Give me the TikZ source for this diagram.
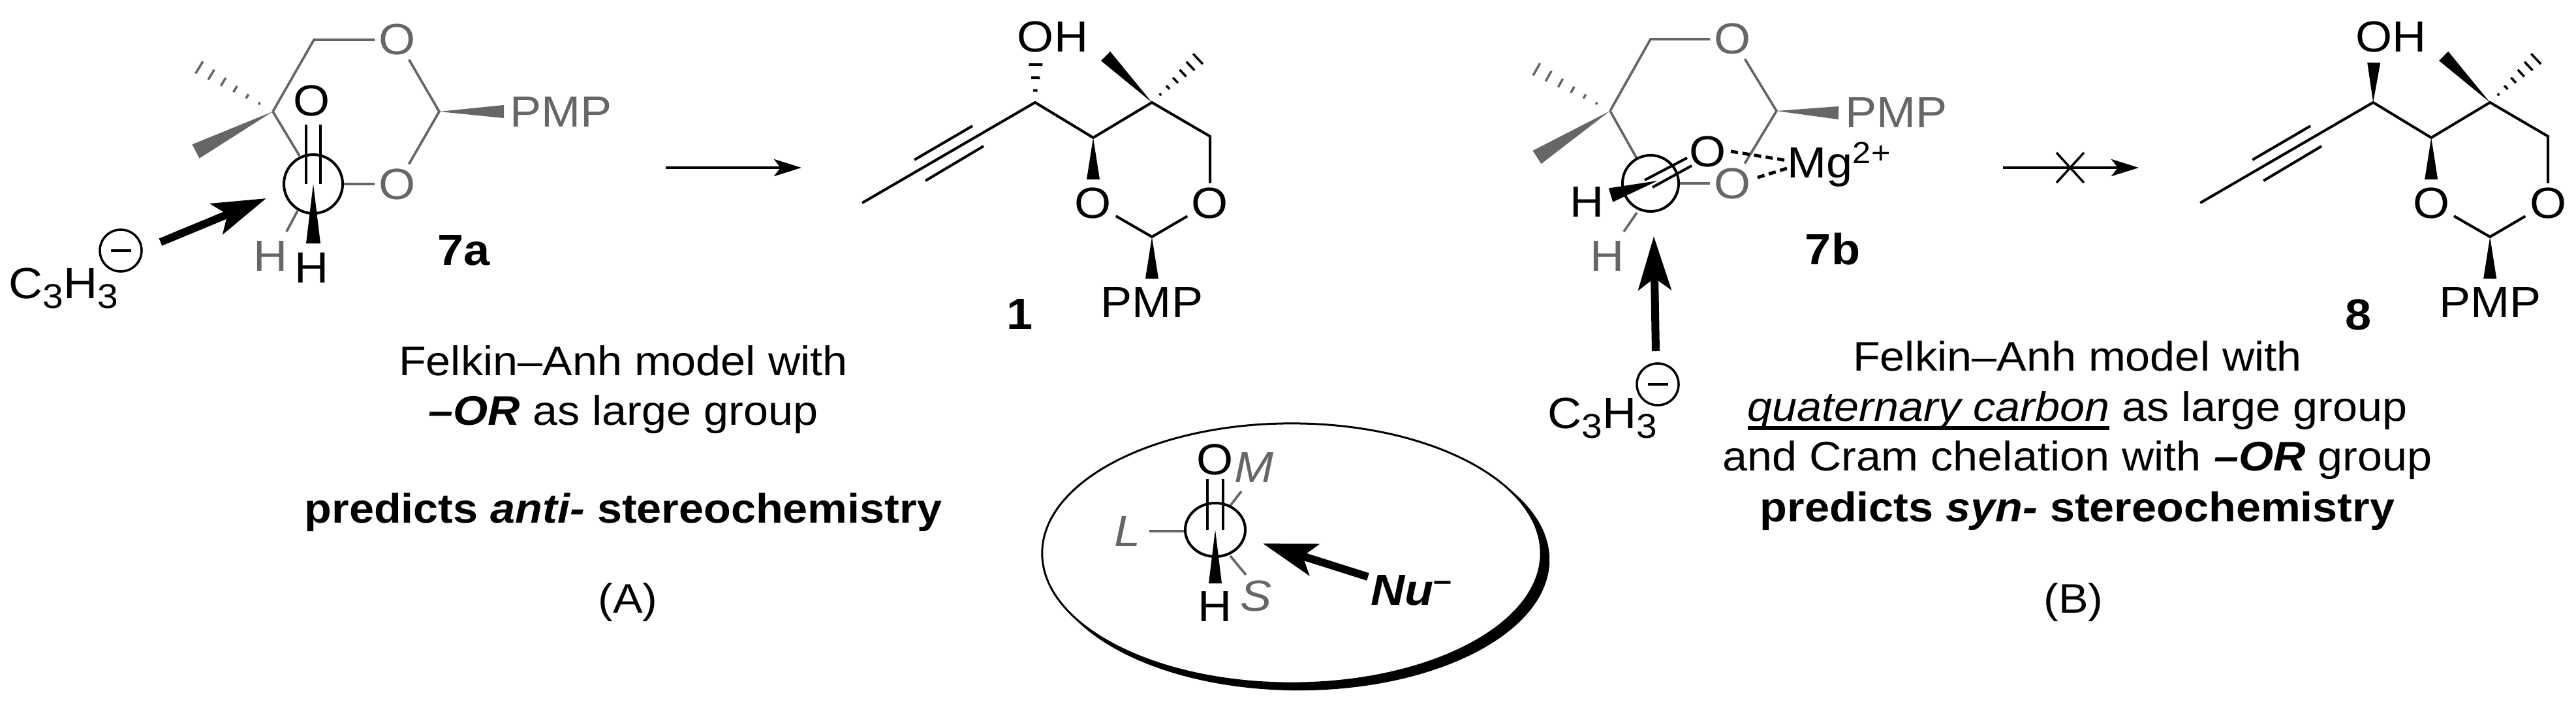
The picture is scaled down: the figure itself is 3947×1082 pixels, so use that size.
\documentclass[tikz,border=0pt]{standalone}
\usepackage{fontspec}
\setmainfont{Liberation Sans}[FakeStretch=1.08]
\usetikzlibrary{calc,arrows.meta}
\definecolor{gry}{RGB}{102,102,102}
\newcommand\hashb[3][black]{\foreach \t in {0.18,0.34,0.5,0.66,0.82,0.98}{\draw[#1,line width=0.035cm] ($(#2)!\t!(#3)!{\t*0.11cm}!90:(#3)$) -- ($(#2)!\t!(#3)!{\t*0.11cm}!-90:(#3)$);}}
\newcommand\hashc[3][black]{\foreach \t in {0.3,0.62,0.95}{\draw[#1,line width=0.04cm] ($(#2)!\t!(#3)!{\t*0.11cm}!90:(#3)$) -- ($(#2)!\t!(#3)!{\t*0.11cm}!-90:(#3)$);}}
\newcommand\wedgeb[4][black]{\fill[#1] (#2) -- ($(#3)!#4!90:(#2)$) -- ($(#3)!#4!-90:(#2)$) -- cycle;}
\newcommand\sub[1]{{\fontsize{15}{15}\selectfont\raisebox{-0.3em}{#1}}}
\newcommand\ulx[1]{\leavevmode\setbox0\hbox{#1}\rlap{#1}\rule[-0.22em]{\wd0}{0.09em}}
\newcommand\mkprod[4]{%
 \begin{scope}[xshift=#2cm]
 \coordinate (#1me) at (1321,311);
 \coordinate (#1cb) at (1586,157);
 \coordinate (#1c2) at (1675,211);
 \coordinate (#1q) at (1765,157);
 \coordinate (#1ch) at (1854,209);
 \coordinate (#1ac) at (1765,363);
 \coordinate (#1t1a) at (1401,245); \coordinate (#1t1b) at (1490,193);
 \coordinate (#1t2a) at (1418,277); \coordinate (#1t2b) at (1507,224);
 \coordinate (#1ohb) at (1587,96);
 \coordinate (#1w1) at (1675,275);
 \coordinate (#1w2) at (1765,427);
 \coordinate (#1w3) at (1694,86);
 \coordinate (#1h3) at (1837,89);
 \node[lab] (#1OH) at (1613,57) {OH};
 \node[lab] (#1Ol) at (1675,311) {O};
 \node[lab] (#1Or) at (1854,311) {O};
 \node[lab] (#1P) at (1765,464) {PMP};
 \node[lab,font=\fontsize{19}{22}\selectfont\bfseries] (#1L) at (1563,482) {#4};
 \draw[bond] (#1me) -- (#1cb) -- (#1c2) -- (#1q) -- (#1ch) -- (#1Or) -- (#1ac) -- (#1Ol);
 \draw[bond] (#1t1a) -- (#1t1b) (#1t2a) -- (#1t2b);
 \wedgeb{#1c2}{#1w1}{0.1cm}
 \wedgeb{#1ac}{#1w2}{0.1cm}
 \wedgeb{#1q}{#1w3}{0.1cm}
 \hashb{#1q}{#1h3}
 \ifnum#3=0 \hashc{#1cb}{#1ohb}\else\wedgeb{#1cb}{#1ohb}{0.1cm}\fi
 \end{scope}}
\begin{document}
\begin{tikzpicture}[x=0.01cm,y=-0.01cm,
 bond/.style={line width=0.04cm},
 gbond/.style={line width=0.037cm,gry},
 lab/.style={font=\fontsize{19}{22}\selectfont,inner sep=0.06cm},
 glab/.style={lab,text=gry},
 txt/.style={font=\fontsize{18}{21}\selectfont,inner sep=0,anchor=base},
 bigarrow/.style={line width=0.12cm,-{Stealth[length=0.82cm,width=0.5cm,inset=0.18cm]}},
 rarrow/.style={line width=0.045cm,-{Stealth[length=0.42cm,width=0.26cm,inset=0.1cm]}}]
\useasboundingbox (0,0) rectangle (3947,1082);
% ---------- 7a ----------
\coordinate (aq) at (418,171);
\coordinate (ach) at (481,61);
\coordinate (aac) at (673,171);
\coordinate (ahm) at (303,102);
\coordinate (awm) at (300,232);
\coordinate (ain) at (459,239);
\coordinate (ac) at (480,282);
\coordinate (awp) at (772,171);
\coordinate (afw) at (480,373);
\coordinate (agh1) at (456,323);
\coordinate (agh2) at (439,355);
\node[glab] (aOt) at (609,61) {O};
\node[glab] (aOl) at (609,282) {O};
\node[glab,anchor=west,inner sep=0] (aP) at (781,172) {PMP};
\node[lab] (aO) at (478,155) {O};
\node[lab] (aH) at (478,411) {H};
\node[glab] (aHg) at (415,393) {H};
\node[lab,font=\fontsize{19}{22}\selectfont\bfseries] (a7) at (711,384) {7a};
\draw[gbond] (aq) -- (ach) -- (aOt) -- (aac) -- (aOl);
\draw[gbond] (aq) -- (ain);
\draw[gbond] (agh1) -- (agh2);
\wedgeb[gry]{aac}{awp}{0.1cm}
\wedgeb[gry]{aq}{awm}{0.12cm}
\hashb[gry]{aq}{ahm}
\draw[gbond] ($(ac)+(45,0)$) -- (aOl);
\draw[bond] (ac) circle[radius=0.45cm];
\draw[bond] (469,191) -- (469,282) (491,191) -- (491,282);
\wedgeb{ac}{afw}{0.11cm}
\node[lab,anchor=base west,inner sep=0] (aC3) at (13,457) {C\sub{3}H\sub{3}};
\draw[line width=0.035cm] (185,384) circle[radius=0.32cm];
\draw[line width=0.035cm] (170,384) -- (201,384);
\coordinate (aar1) at (246,371);
\coordinate (aar2) at (408,304);
\draw[bigarrow] (aar1) -- (aar2);
% reaction arrow A
\coordinate (ra1) at (1020,257);
\coordinate (ra2) at (1228,257);
\draw[rarrow] (ra1) -- (ra2);
% ---------- products ----------
\mkprod{p}{0}{0}{1}
\mkprod{r}{20.49}{1}{8}
% crossed arrow
\coordinate (rb1) at (3069,257);
\coordinate (rb2) at (3277,257);
\draw[rarrow] (rb1) -- (rb2);
\draw[line width=0.035cm] (3151,234) -- (3193,280) (3193,234) -- (3151,280);
% ---------- 7b ----------
\coordinate (bq) at (2467,170);
\coordinate (bch) at (2529,60);
\coordinate (bac) at (2722,170);
\coordinate (bhm) at (2352,105);
\coordinate (bwm) at (2355,241);
\coordinate (bin) at (2508,243);
\coordinate (bc) at (2529,281);
\coordinate (bwp) at (2817,173);
\coordinate (bfw0) at (2540,277);
\coordinate (bfw) at (2468,299);
\coordinate (bgh1) at (2508,326);
\coordinate (bgh2) at (2488,355);
\node[glab] (bOt) at (2655,60) {O};
\node[glab] (bOl) at (2655,281) {O};
\node[glab,anchor=west,inner sep=0] (bP) at (2827,173) {PMP};
\node[lab] (bO) at (2617,232) {O};
\node[lab] (bH) at (2432,310) {H};
\node[glab] (bHg) at (2463,393) {H};
\node[lab,anchor=west,inner sep=0] (bMg) at (2738,252) {Mg\textsuperscript{2+}};
\node[lab,font=\fontsize{19}{22}\selectfont\bfseries] (b7) at (2808,382) {7b};
\draw[gbond] (bq) -- (bch) -- (bOt) -- (bac) -- (bOl);
\draw[gbond] (bq) -- (bin);
\draw[gbond] (bgh1) -- (bgh2);
\wedgeb[gry]{bac}{bwp}{0.1cm}
\wedgeb[gry]{bq}{bwm}{0.12cm}
\hashb[gry]{bq}{bhm}
\draw[gbond] ($(bc)+(43,0)$) -- (bOl);
\draw[bond] (bc) circle[radius=0.43cm];
\draw[bond] (2532,287) -- (2592,254) (2520,276) -- (2585,242);
\wedgeb{bfw0}{bfw}{0.11cm}
\coordinate (bd1) at (2652,232); \coordinate (bd2) at (2738,246);
\coordinate (bd3) at (2693,272); \coordinate (bd4) at (2738,258);
\draw[line width=0.05cm,dash pattern=on 0.11cm off 0.07cm] (bd1) -- (bd2) (bd3) -- (bd4);
\node[lab,anchor=base west,inner sep=0] (bC3) at (2371,656) {C\sub{3}H\sub{3}};
\draw[line width=0.035cm] (2540,589) circle[radius=0.32cm];
\draw[line width=0.035cm] (2525,589) -- (2556,589);
\coordinate (bar1) at (2537,538);
\coordinate (bar2) at (2534,362);
\draw[bigarrow] (bar1) -- (bar2);
% ---------- texts ----------
\node[txt] (tA1) at (955,575) {Felkin–Anh model with};
\node[txt] (tA2) at (955,651) {\textbf{\textit{–OR}} as large group};
\node[txt] (tA3) at (955,801) {\textbf{predicts \textit{anti-} stereochemistry}};
\node[txt] (tA4) at (962,939) {(A)};
\node[txt] (tB1) at (3183,568) {Felkin–Anh model with};
\node[txt] (tB2) at (3183,645) {\ulx{\textit{quaternary carbon}} as large group};
\node[txt] (tB3) at (3183,721) {and Cram chelation with \textbf{\textit{–OR}} group};
\node[txt] (tB4) at (3183,799) {\textbf{predicts \textit{syn-} stereochemistry}};
\node[txt] (tB5) at (3177,939) {(B)};
% ---------- model ellipse ----------
\fill[black] (1990,858) ellipse[x radius=3.84cm,y radius=2.0cm];
\draw[line width=0.03cm,fill=white] (1979,848) ellipse[x radius=3.82cm,y radius=1.99cm];
\coordinate (nc) at (1862,812);
\coordinate (nw) at (1862,894);
\coordinate (nm1) at (1902,753); \coordinate (nm2) at (1885,775);
\coordinate (nl1) at (1761,814); \coordinate (nl2) at (1818,814);
\coordinate (ns1) at (1885,852); \coordinate (ns2) at (1909,881);
\node[lab] (nO) at (1862,704) {O};
\node[glab,font=\fontsize{19}{22}\selectfont\itshape] (nM) at (1922,717) {M};
\node[glab,font=\fontsize{19}{22}\selectfont\itshape] (nL) at (1728,815) {L};
\node[glab,font=\fontsize{19}{22}\selectfont\itshape] (nS) at (1925,913) {S};
\node[lab] (nH) at (1862,930) {H};
\draw[gbond] (nm1) -- (nm2) (nl1) -- (nl2) (ns1) -- (ns2);
\draw[bond] (nc) ellipse[x radius=0.46cm,y radius=0.41cm];
\draw[bond] (1850,734) -- (1850,812) (1874,734) -- (1874,812);
\wedgeb{nc}{nw}{0.1cm}
\coordinate (nar1) at (2096,884);
\coordinate (nar2) at (1935,833);
\draw[bigarrow] (nar1) -- (nar2);
\node[lab,anchor=west,inner sep=0] (nNu) at (2100,905) {\textbf{\textit{Nu}}\textsuperscript{\textbf{–}}};
\end{tikzpicture}
\end{document}
